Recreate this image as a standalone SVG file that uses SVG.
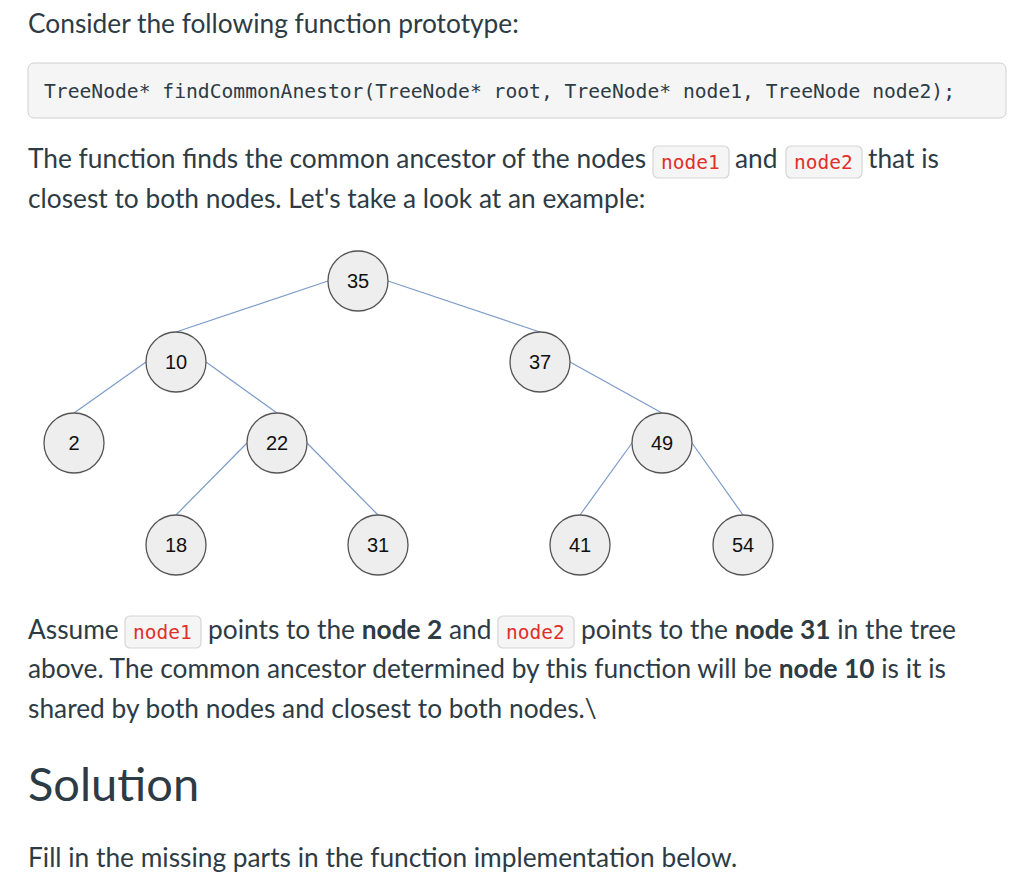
<svg xmlns="http://www.w3.org/2000/svg" width="1024" height="886" viewBox="0 0 1024 886">
<style>
.t{font-family:Lato,"Liberation Sans",sans-serif;font-size:26.3px;fill:#2d3b45}
.b{font-weight:bold}
.m{font-family:"DejaVu Sans Mono","Liberation Mono",monospace;font-size:19.7px;fill:#2d3b45}
.c{font-family:"DejaVu Sans Mono","Liberation Mono",monospace;font-size:19.5px;fill:#e0302a}
.chip{fill:#f5f5f5;stroke:#d5d5d5;stroke-width:1.2}
.n circle{fill:#eeeeee;stroke:#555;stroke-width:1.3}
.n text{font-family:"Liberation Sans",Arial,sans-serif;font-size:20px;fill:#111;text-anchor:middle}
.e line{stroke:#7c9bc9;stroke-width:1.2}
</style>
<rect width="1024" height="886" fill="#fff"/>
<text class="t" x="28" y="33">Consider the following function prototype:</text>
<rect x="28" y="63" width="978" height="55" rx="6" fill="#f5f5f5" stroke="#cfcfcf"/>
<text class="m" x="44" y="98" textLength="911" lengthAdjust="spacingAndGlyphs">TreeNode* findCommonAnestor(TreeNode* root, TreeNode* node1, TreeNode node2);</text>
<text class="t" x="28" y="168">The function finds the common ancestor of the nodes</text>
<rect class="chip" x="653" y="146" width="76" height="32" rx="5"/>
<text class="c" x="661" y="169">node1</text>
<text class="t" x="735" y="168">and</text>
<rect class="chip" x="786" y="146" width="76" height="32" rx="5"/>
<text class="c" x="794" y="169">node2</text>
<text class="t" x="868" y="168">that is</text>
<text class="t" x="28" y="208">closest to both nodes. Let's take a look at an example:</text>
<g class="e" id="connectors">
<line x1="328" y1="281" x2="176" y2="332"/>
<line x1="388" y1="281" x2="540" y2="332"/>
<line x1="146" y1="362" x2="74" y2="413"/>
<line x1="206" y1="362" x2="277" y2="413"/>
<line x1="247" y1="443" x2="176" y2="515"/>
<line x1="307" y1="443" x2="378" y2="515"/>
<line x1="570" y1="362" x2="662" y2="413"/>
<line x1="632" y1="443" x2="580" y2="515"/>
<line x1="692" y1="443" x2="743" y2="515"/>
</g>
<g class="n" id="n35"><circle cx="358" cy="281" r="30"/><text x="358" y="288">35</text></g>
<g class="n" id="n10"><circle cx="176" cy="362" r="30"/><text x="176" y="369">10</text></g>
<g class="n" id="n37"><circle cx="540" cy="362" r="30"/><text x="540" y="369">37</text></g>
<g class="n" id="n2"><circle cx="74" cy="443" r="30"/><text x="74" y="450">2</text></g>
<g class="n" id="n22"><circle cx="277" cy="443" r="30"/><text x="277" y="450">22</text></g>
<g class="n" id="n49"><circle cx="662" cy="443" r="30"/><text x="662" y="450">49</text></g>
<g class="n" id="n18"><circle cx="176" cy="545" r="30"/><text x="176" y="552">18</text></g>
<g class="n" id="n31"><circle cx="378" cy="545" r="30"/><text x="378" y="552">31</text></g>
<g class="n" id="n41"><circle cx="580" cy="545" r="30"/><text x="580" y="552">41</text></g>
<g class="n" id="n54"><circle cx="743" cy="545" r="30"/><text x="743" y="552">54</text></g>
<text class="t" x="28" y="639">Assume</text>
<rect class="chip" x="125" y="616" width="76" height="32" rx="5"/>
<text class="c" x="133" y="639">node1</text>
<text class="t" x="208" y="639">points to the <tspan class="b">node 2</tspan> and</text>
<rect class="chip" x="498" y="616" width="76" height="32" rx="5"/>
<text class="c" x="506" y="639">node2</text>
<text class="t" x="581" y="639">points to the <tspan class="b">node 31</tspan> in the tree</text>
<text class="t" x="28" y="678">above. The common ancestor determined by this function will be <tspan class="b">node 10</tspan> is it is</text>
<text class="t" x="28" y="718">shared by both nodes and closest to both nodes.\</text>
<text class="t" x="28" y="801" style="font-size:47px">Solution</text>
<text class="t" x="28" y="867">Fill in the missing parts in the function implementation below.</text>
</svg>
